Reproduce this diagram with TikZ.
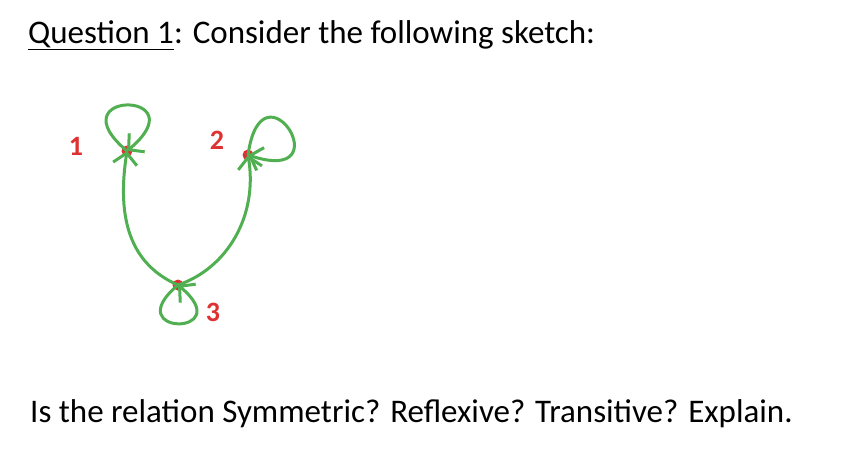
\documentclass[tikz,border=0pt]{standalone}
\usepackage{fontspec}
\setmainfont{Carlito}
\usetikzlibrary{arrows.meta, positioning}
\definecolor{penColor}{RGB}{80,175,80}
\definecolor{dotColor}{RGB}{222,50,50}
\tikzset{vertex/.style={circle, fill=dotColor, inner sep=0pt, minimum size=11pt}}
\tikzset{vlabel/.style={text=dotColor, font=\fontsize{28}{28}\selectfont\bfseries}}
\tikzset{line/.style={draw=penColor, line width=3pt, line cap=round, line join=round}}
\tikzstyle{arrow} = [line, -{Straight Barb[length=11pt, width=24pt, line width=3pt]}]
\tikzset{textline/.style={anchor=base west, inner sep=0pt, font=\fontsize{33}{38}\selectfont}}

\begin{document}
\begin{tikzpicture}[x=1pt, y=-1pt]
	\useasboundingbox (0,0) rectangle (852,458);
	% Text
	\node (question) [textline] at (28,43) {\underline{Question 1}: Consider the following sketch:};
	\node (task) [textline] at (30,422) {Is the relation Symmetric? Reflexive? Transitive? Explain.};

	% Nodes
	\node (one) [vertex] at (127,151) {};
	\node (two) [vertex] at (248,155) {};
	\node (three) [vertex] at (178,285) {};
	\node (lone) [vlabel] at (76,146) {1};
	\node (ltwo) [vlabel] at (217,140) {2};
	\node (lthree) [vlabel] at (213,312) {3};

	% Connectors
	\draw [arrow] (three.center) .. controls (125,262) and (118,210) .. (one.center);
	\draw [arrow] (three.center) .. controls (228,268) and (258,215) .. (two.center);
	\draw [arrow] (one.center) .. controls +(-140:95) and +(-40:95) .. (one.center);
	\draw [arrow] (two.center) .. controls +(-82:100) and +(18:100) .. (two.center);
	\draw [arrow] (three.center) .. controls +(140:80) and +(40:80) .. (three.center);
\end{tikzpicture}
\end{document}
